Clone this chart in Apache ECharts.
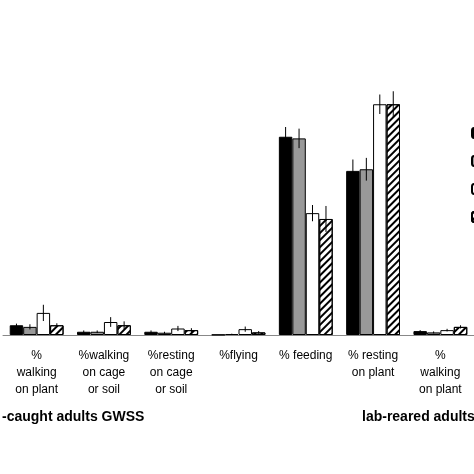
<!DOCTYPE html>
<html><head><meta charset="utf-8">
<script src="https://cdn.jsdelivr.net/npm/echarts@6/dist/echarts.min.js"></script>
<style>html,body{margin:0;background:#fff}#c{width:474px;height:474px}</style>
</head><body><div id="c"></div>
<script>
const categories = ['%\nwalking\non plant', '%walking\non cage\nor soil', '%resting\non cage\nor soil', '%flying', '% feeding', '% resting\non plant', '%\nwalking\non plant'];
const seriesNames = ['A', 'B', 'C', 'D'];
const values = [
  [3, 1, 1, 0.1, 61, 50.5, 1.2],
  [2.5, 1, 0.7, 0.3, 60.5, 51, 0.8],
  [6.8, 4, 2, 1.8, 37.5, 71, 1.5],
  [3, 3, 1.5, 0.8, 35.7, 71, 2.5]
];
const errors = [
  [0.5, 0.4, 0.4, 0, 3, 3.5, 0.3],
  [0.8, 0.4, 0.3, 0.1, 3, 3.5, 0.3],
  [2.5, 1.5, 0.8, 0.8, 2.5, 3, 0.4],
  [0.6, 1.2, 0.6, 0.4, 4, 4, 0.5]
];
const fills = ['#000', '#999', '#fff', '#fff'];

const chart = echarts.init(document.getElementById('c'));
const series = [];
seriesNames.forEach((n, i) => {
  const itemStyle = { color: fills[i], borderColor: '#000', borderWidth: 1 };
  if (i === 3) {
    itemStyle.decal = { symbol: 'rect', dashArrayX: [1, 0], dashArrayY: [2, 3], rotation: -Math.PI / 4, color: '#000' };
  }
  series.push({ name: n, type: 'bar', data: values[i], barGap: '0%', barCategoryGap: '20%', itemStyle });
});
// error bars
seriesNames.forEach((n, i) => {
  series.push({
    type: 'custom', z: 10,
    data: values[i].map((v, k) => [k, v, errors[i][k]]),
    renderItem: (params, api) => {
      const k = api.value(0), v = api.value(1), e = api.value(2);
      const bw = api.size([1, 0])[0] * 0.8 / 4;
      const x = api.coord([k, 0])[0] - bw * 2 + bw * (i + 0.5);
      const top = api.coord([k, v + e])[1], bot = api.coord([k, Math.max(v - e, 0)])[1];
      return { type: 'line', shape: { x1: x, y1: top, x2: x, y2: bot }, style: { stroke: '#000', lineWidth: 1 } };
    }
  });
});
chart.setOption({
  animation: false,
  grid: { left: 3, right: -9, top: 10, bottom: 139 },
  legend: {
    orient: 'vertical', left: 466, top: 122, itemWidth: 10, itemHeight: 10, itemGap: 16,
    data: seriesNames, textStyle: { fontSize: 12, color: '#000' }
  },
  xAxis: {
    type: 'category', data: categories,
    axisLine: { lineStyle: { color: '#888' } },
    axisTick: { lineStyle: { color: '#888' }, length: 5 },
    axisLabel: { color: '#000', fontSize: 12, fontFamily: 'Liberation Sans', lineHeight: 17, margin: 12, interval: 0 }
  },
  yAxis: { type: 'value', min: 0, max: 100, show: false },
  graphic: [
    { type: 'text', left: 2, top: 410, style: { text: '-caught adults GWSS', font: 'bold 14px Liberation Sans', fill: '#000' } },
    { type: 'text', left: 362, top: 410, style: { text: 'lab-reared adults GWSS', font: 'bold 14px Liberation Sans', fill: '#000' } }
  ],
  series
});
</script></body></html>
